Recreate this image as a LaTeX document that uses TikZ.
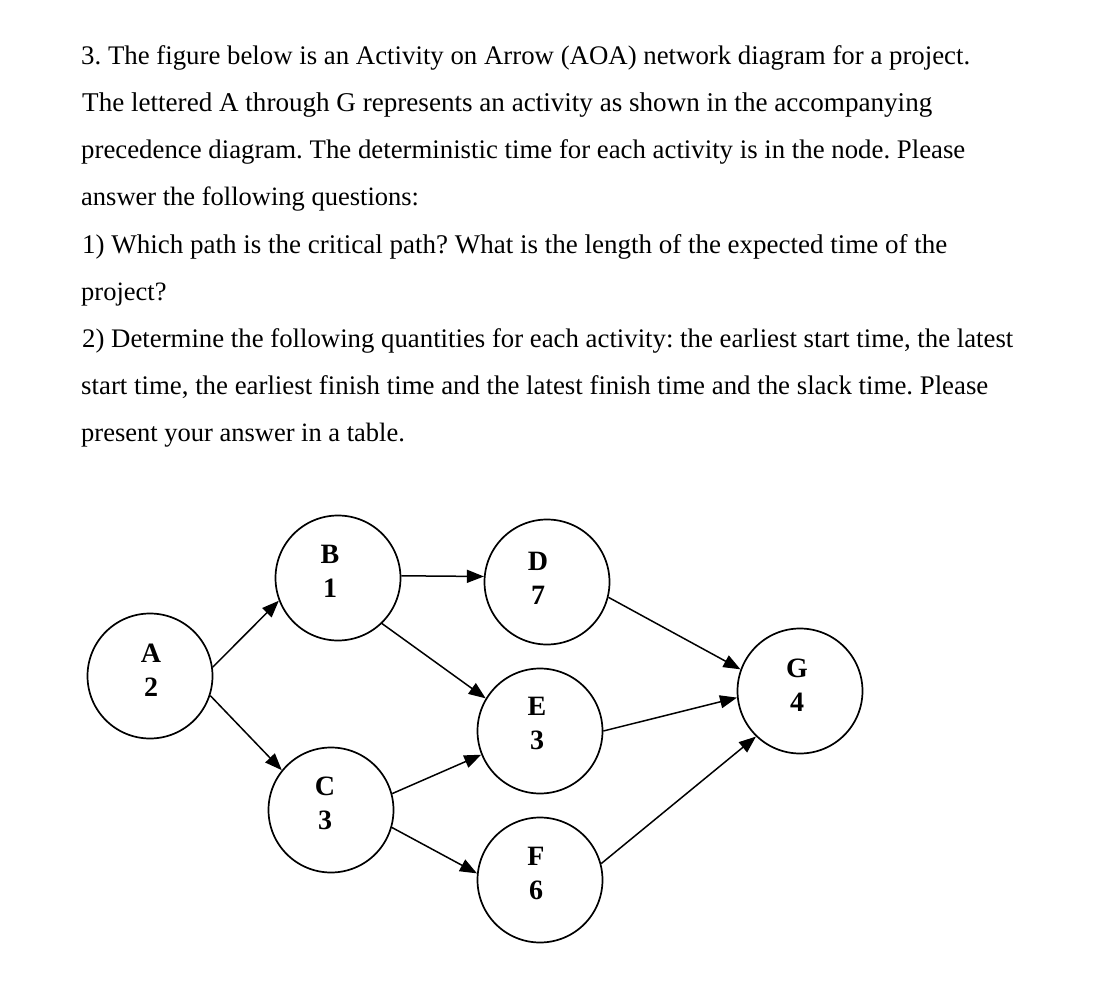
\documentclass[tikz,border=0pt]{standalone}
\usepackage{fontspec}
\setmainfont{Liberation Serif}
\usetikzlibrary{arrows.meta,calc}
\begin{document}
\frenchspacing
\begin{tikzpicture}[x=1pt,y=-1pt,
  act/.style={circle,draw,line width=1.7pt,minimum size=125pt,inner sep=0pt},
  lbl/.style={font=\fontsize{28}{34}\selectfont\bfseries,align=center,inner sep=0pt},
  txt/.style={anchor=base west,inner sep=0pt,font=\fontsize{26.5}{30}\selectfont},
  con/.style={line width=1.5pt,-{Triangle[length=17pt,width=13pt]}}]
\useasboundingbox (0,0) rectangle (1098,987);
% question text
\node[txt] (t1) at (81,65) {\resizebox{889pt}{!}{3. The figure below is an Activity on Arrow (AOA) network diagram for a project.}};
\node[txt] (t2) at (82,112) {\resizebox{850pt}{!}{The lettered A through G represents an activity as shown in the accompanying}};
\node[txt] (t3) at (81,159) {\resizebox{884pt}{!}{precedence diagram. The deterministic time for each activity is in the node. Please}};
\node[txt] (t4) at (81,206) {answer the following questions:};
\node[txt] (t5) at (82,253) {\resizebox{865pt}{!}{1) Which path is the critical path? What is the length of the expected time of the}};
\node[txt] (t6) at (81,300) {project?};
\node[txt] (t7) at (82,347) {\resizebox{931pt}{!}{2) Determine the following quantities for each activity: the earliest start time, the latest}};
\node[txt] (t8) at (81,394) {\resizebox{907pt}{!}{start time, the earliest finish time and the latest finish time and the slack time. Please}};
\node[txt] (t9) at (81,441) {present your answer in a table.};
% activity circles
\node[act] (A) at (150,676) {};
\node[act] (B) at (338,578) {};
\node[act] (C) at (331,810) {};
\node[act] (D) at (547,582) {};
\node[act] (E) at (540,731) {};
\node[act] (F) at (540,880) {};
\node[act] (G) at (800,691) {};
% labels
\node[lbl] (Al) at (151,670.5) {A\\2};
\node[lbl] (Bl) at (330,571.5) {B\\1};
\node[lbl] (Cl) at (325,803.5) {C\\3};
\node[lbl] (Dl) at (538,578.5) {D\\7};
\node[lbl] (El) at (537,723.5) {E\\3};
\node[lbl] (Fl) at (536,873) {F\\6};
\node[lbl] (Gl) at (797,685) {G\\4};
% connectors
\draw[con] (A.8) -- (B.201);
\draw[con] (A.-18) -- (C.141);
\draw[con] (B.2) -- (D.175);
\draw[con] (B.-46) -- (E.149);
\draw[con] (C.15) -- (E.202);
\draw[con] (C.-16) -- (F.174);
\draw[con] (D.-14) -- (G.160);
\draw[con] (E.0) -- (G.186);
\draw[con] (F.15) -- (G.226);
\end{tikzpicture}
\end{document}
